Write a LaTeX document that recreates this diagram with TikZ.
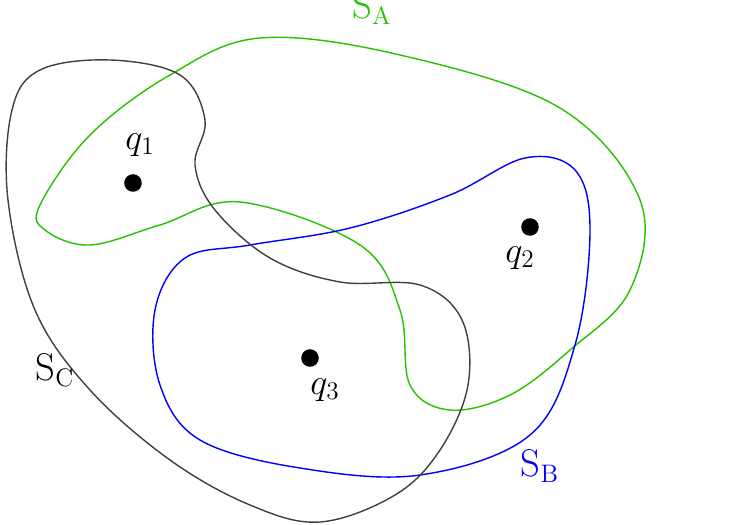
\documentclass[tikz,border=0pt]{standalone}
\begin{document}
\begin{tikzpicture}[x=0.02cm,y=-0.02cm,
  curve/.style={line width=0.8pt},
  pt/.style={circle,fill=black,inner sep=0pt,minimum size=10pt},
  lbl/.style={font=\fontsize{22}{26}\selectfont,inner sep=0pt}]
\useasboundingbox (0,0) rectangle (750,524);
\draw[curve,green!70!black!80!lime] plot[smooth cycle,tension=0.6] coordinates {
 (40,205) (90,135) (170,75) (260,38) (400,55) (560,108) (640,200) (630,290) (570,350) (510,395) (450,410)
 (410,385) (400,310) (360,245) (240,202) (160,225) (90,245) (45,230)};
\draw[curve,blue] plot[smooth cycle,tension=0.6] coordinates {
 (155,310) (185,258) (250,245) (350,228) (450,195) (525,158) (575,170) (590,230) (575,345) (530,435)
 (420,475) (300,468) (200,440) (160,385)};
\draw[curve,black!75] plot[smooth cycle,tension=0.6] coordinates {
 (12,110) (40,70) (110,60) (180,75) (205,120) (195,165) (215,210) (270,258) (340,282) (420,285) (462,320)
 (468,385) (440,450) (395,495) (320,522) (250,505) (170,460) (90,390) (35,310) (8,200)};
\node[pt] (q1) at (133,183) {};
\node[pt] (q2) at (530,227) {};
\node[pt] (q3) at (310,358) {};
\node[lbl] (l1) at (140,145) {$q_1$};
\node[lbl] (l2) at (520,258) {$q_2$};
\node[lbl] (l3) at (325,390) {$q_3$};
\node[lbl,green!70!black!80!lime] (sa) at (372,8) {S$_\mathrm{A}$};
\node[lbl,blue] (sb) at (540,466) {S$_\mathrm{B}$};
\node[lbl] (sc) at (55,370) {S$_\mathrm{C}$};
\end{tikzpicture}
\end{document}
